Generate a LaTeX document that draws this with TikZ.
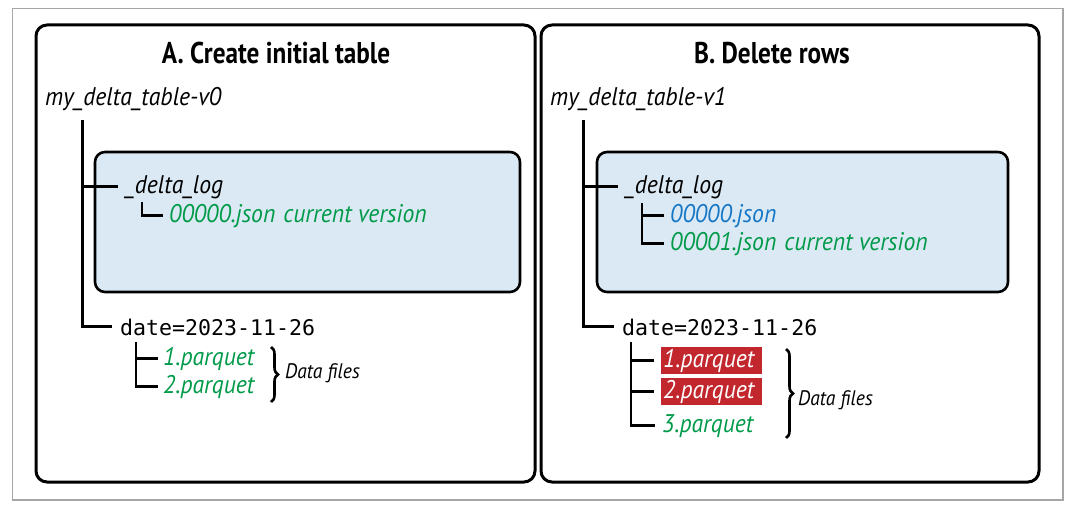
\documentclass[tikz,border=0pt]{standalone}
\usepackage{fontspec}
\setmainfont{PT Sans}
\setmonofont{DejaVu Sans Mono}
\newfontfamily\narrowfont[FakeStretch=0.93]{PT Sans}
\newfontfamily\headfont[FakeStretch=0.84]{PT Sans}
\usetikzlibrary{decorations.pathreplacing,calc}

\definecolor{filegreen}{HTML}{009A49}
\definecolor{oldblue}{HTML}{1577C6}
\definecolor{delred}{HTML}{C1272D}
\definecolor{logfill}{HTML}{DBE9F4}

\tikzset{
  panel/.style={draw=black, line width=3pt, rounded corners=11pt,
    minimum width=#1, minimum height=457pt, inner sep=0pt},
  logbox/.style={draw=black, line width=2.6pt, fill=logfill, rounded corners=10pt,
    minimum width=#1, minimum height=140pt, inner sep=0pt},
  paneltitle/.style={font=\headfont\bfseries\fontsize{30}{34}\selectfont, inner sep=0pt},
  itxt/.style={font=\narrowfont\itshape\fontsize{25.5}{29}\selectfont,
    inner sep=0pt, anchor=base west},
  newfile/.style={itxt, text=filegreen},
  oldfile/.style={itxt, text=oldblue},
  gonefile/.style={itxt, text=white, fill=delred, inner xsep=2pt,
    text width=97pt, minimum height=27pt, anchor=west, text depth=4pt},
  note/.style={font=\narrowfont\itshape\fontsize{21}{25}\selectfont,
    inner sep=0pt, anchor=base west},
  dir/.style={font=\ttfamily\fontsize{21.6}{25}\selectfont,
    inner sep=0pt, anchor=base west},
  trunk/.style={line width=3pt},
  twig/.style={line width=2.6pt},
  filebrace/.style={decorate, decoration={brace, amplitude=7pt}, line width=2.6pt},
}

\begin{document}
\begin{tikzpicture}[x=1pt, y=-1pt]
  \useasboundingbox (0,0) rectangle (1081,508);
  \draw[gray!70, line width=1.2pt] (12.5,8.5) rectangle (1063,500);

  % ---------------- A: create initial table ----------------
  \node[panel=499pt] (panelA) at (285.5,253.5) {};
  \node[paneltitle] (titleA) at (276,53) {A. Create initial table};
  \node[logbox=425pt] (boxA) at (307.5,222) {};
  \node[itxt] (rootA) at (45,106) {my\_delta\_table-v0};
  \node[itxt] (logA) at (125,193) {\_delta\_log};
  \node[newfile] (jsonA) at (169,222) {00000.json\hspace{8pt}current version};
  \node[dir] (dateA) at (120,335) {date=2023-11-26};
  \node[newfile] (pqA1) at (163,365) {1.parquet};
  \node[newfile] (pqA2) at (163,393) {2.parquet};
  \node[note] (dataA) at (285,378) {Data files};

  \coordinate (trunkA) at (82,120);
  \coordinate (logstemA) at (142,202);
  \coordinate (datestemA) at (136,342);
  \draw[trunk] (trunkA) |- ([xshift=-8pt]dateA.west);
  \draw[trunk] (trunkA |- logA.west) -- ([xshift=-7pt]logA.west);
  \draw[twig] (logstemA) |- ([xshift=-6pt]jsonA.west);
  \draw[twig] (datestemA) |- ([xshift=-5pt]pqA2.west);
  \draw[twig] (datestemA |- pqA1.west) -- ([xshift=-5pt]pqA1.west);
  \draw[filebrace] (271,347) -- (271,402);

  % ---------------- B: delete rows ----------------
  \node[panel=498pt] (panelB) at (790,253.5) {};
  \node[paneltitle] (titleB) at (772,53) {B. Delete rows};
  \node[logbox=411pt] (boxB) at (802.5,222) {};
  \node[itxt] (rootB) at (550,106) {my\_delta\_table-v1};
  \node[itxt] (logB) at (625,193) {\_delta\_log};
  \node[oldfile] (json0B) at (670,222) {00000.json};
  \node[newfile] (json1B) at (670,250) {00001.json\hspace{8pt}current version};
  \node[dir] (dateB) at (622,335) {date=2023-11-26};
  \node[gonefile] (pqB1) at (661,360.5) {1.parquet};
  \node[gonefile] (pqB2) at (661,391.5) {2.parquet};
  \node[newfile] (pqB3) at (662,432) {3.parquet};
  \node[note] (dataB) at (798,405) {Data files};

  \coordinate (trunkB) at (583,120);
  \coordinate (logstemB) at (642,203);
  \coordinate (datestemB) at (631,342);
  \draw[trunk] (trunkB) |- ([xshift=-8pt]dateB.west);
  \draw[trunk] (trunkB |- logB.west) -- ([xshift=-7pt]logB.west);
  \draw[twig] (logstemB) |- ([xshift=-6pt]json1B.west);
  \draw[twig] (logstemB |- json0B.west) -- ([xshift=-6pt]json0B.west);
  \draw[twig] (datestemB) |- ([xshift=-7pt]pqB3.west);
  \draw[twig] (datestemB |- pqB1.west) -- ([xshift=-7pt]pqB1.west);
  \draw[twig] (datestemB |- pqB2.west) -- ([xshift=-7pt]pqB2.west);
  \draw[filebrace] (786,349) -- (786,438);
\end{tikzpicture}
\end{document}
